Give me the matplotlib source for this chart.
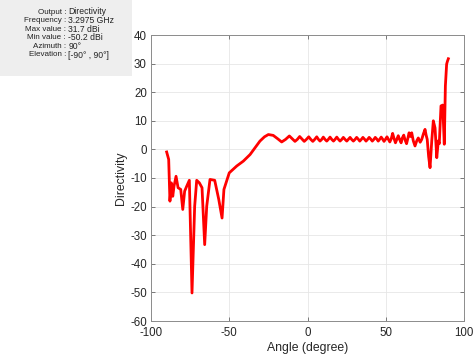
import matplotlib
matplotlib.use("Agg")
import matplotlib.pyplot as plt

plt.rcParams['font.family'] = ['Liberation Sans', 'DejaVu Sans']
plt.rcParams['axes.unicode_minus'] = False

angle = [-90.0, -88.7, -87.9, -87.0, -86.1, -85.3, -84.0, -82.7, -81.0, -79.7,
         -78.5, -77.2, -75.5, -73.8, -72.1, -70.8, -69.1, -67.4, -65.7, -64.4,
         -62.3, -59.3, -56.7, -54.6, -53.4, -50.0, -45.2, -41.0, -36.7, -33.5,
         -30.4, -27.5, -25.0, -21.9, -19.0, -16.5, -14.0, -11.6, -9.5, -8.0,
         -6.5, -5.0, -3.5, -2.1, -0.7, 0.8, 2.1, 3.4, 4.6, 5.9,
         7.0, 8.0, 9.1, 10.1, 11.2, 12.3, 13.3, 14.4, 15.5, 16.6,
         17.6, 18.7, 19.8, 20.8, 21.9, 22.9, 24.0, 25.1, 26.1, 27.2,
         28.2, 29.3, 30.4, 31.4, 32.4, 33.4, 34.4, 35.4, 36.4, 37.4,
         38.4, 39.4, 40.4, 41.4, 42.4, 43.3, 44.3, 45.2, 46.2, 47.1,
         48.0, 48.9, 49.9, 50.8, 51.7, 52.6, 53.5, 54.4, 55.3, 56.2,
         57.1, 58.0, 58.9, 59.8, 60.6, 61.5, 62.4, 63.3, 64.1, 64.9,
         65.8, 66.6, 67.6, 68.7, 69.8, 70.8, 72.0, 73.0, 74.1, 75.1,
         75.8, 76.5, 77.4, 78.3, 79.4, 80.4, 81.5, 82.6, 83.6, 84.2,
         85.3, 86.4, 87.4, 88.1, 88.9, 89.4, 90.0]
directivity = [-0.9, -3.5, -18.1, -11.7, -16.4, -12.9, -9.4, -13.4, -14.0, -21.0,
               -14.6, -12.9, -10.8, -50.2, -19.9, -10.8, -11.7, -13.4, -33.3, -19.9,
               -10.5, -10.8, -17.5, -24.0, -14.0, -8.2, -5.8, -4.1, -1.8, 0.6,
               2.9, 4.4, 5.2, 4.9, 3.7, 2.6, 3.5, 4.7, 3.6, 2.8,
               3.5, 4.5, 3.6, 2.8, 3.5, 4.4, 3.5, 2.8, 3.5, 4.4,
               3.5, 2.9, 3.5, 4.3, 3.5, 2.9, 3.5, 4.3, 3.5, 2.9,
               3.5, 4.3, 3.5, 2.9, 3.5, 4.2, 3.5, 2.9, 3.5, 4.2,
               3.5, 2.9, 3.5, 4.2, 3.6, 2.9, 3.5, 4.2, 3.6, 2.9,
               3.5, 4.2, 3.6, 2.9, 3.5, 4.2, 3.6, 2.9, 3.6, 4.3,
               3.6, 2.8, 3.6, 4.4, 3.5, 2.6, 3.7, 5.6, 3.8, 2.3,
               3.6, 4.8, 3.4, 2.3, 4.0, 5.0, 3.2, 2.0, 3.8, 5.8,
               4.5, 5.8, 3.0, 1.2, 3.0, 4.0, 2.5, 3.5, 5.5, 7.0,
               5.0, 3.5, -2.5, -6.4, 3.0, 10.0, 7.5, -2.9, 3.0, 2.0,
               15.2, 15.5, 1.8, 22.2, 29.8, 30.8, 31.7]

xticks = [-100, -50, 0, 50, 100]
yticks = [-60, -50, -40, -30, -20, -10, 0, 10, 20, 30, 40]

info_labels = ["Output", "Frequency", "Max value", "Min value", "Azimuth", "Elevation"]
info_values = ["Directivity", "3.2975 GHz", "31.7 dBi", "-50.2 dBi", "90°", "[-90° , 90°]"]

fig = plt.figure(figsize=(4.74, 3.55), dpi=100)
ax = fig.add_axes([151/474, 34/355, (464-151)/474, (321-35)/355])

ax.plot(angle, directivity, color='#ff0000', lw=2.0)
ax.set_xlim(-100, 100)
ax.set_ylim(-60, 40)
ax.set_xticks(xticks)
ax.set_yticks(yticks)
ax.grid(True, color='#e6e6e6', lw=0.6)
ax.set_axisbelow(True)
for s in ax.spines.values():
    s.set_color('#8c8c8c')
    s.set_linewidth(0.7)
ax.tick_params(direction='in', length=3, width=0.6, color='#666666',
               labelsize=8.3, labelcolor='#262626', top=True, right=True, pad=3)
ax.tick_params(axis='x', pad=4.5)
ax.set_xlabel("Angle (degree)", fontsize=8.8, color='#262626', labelpad=2)
ax.set_ylabel("Directivity", fontsize=8.8, color='#262626', labelpad=2.5)

# info box
fig.patches.append(plt.Rectangle((0, 1 - 76/355), 132/474, 76/355,
                                 transform=fig.transFigure, facecolor='#eeeeee',
                                 edgecolor='none', zorder=0))
for i, (lab, val) in enumerate(zip(info_labels, info_values)):
    yy = 1 - (12 + i * 8.6) / 355
    fig.text(66/474, yy, lab + " :", ha='right', va='center', fontsize=5.8,
             color='#222222', family=['Liberation Sans Narrow', 'Liberation Sans', 'DejaVu Sans'])
    fig.text(68.5/474, yy, val, ha='left', va='center', fontsize=6.2, color='#222222')

fig.savefig("out.png", dpi=100, facecolor='white')
